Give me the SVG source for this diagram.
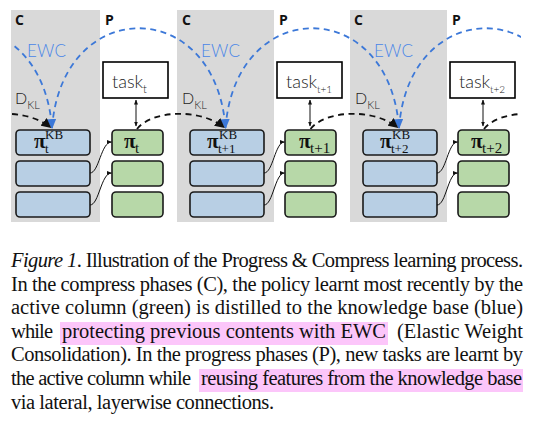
<svg xmlns="http://www.w3.org/2000/svg" width="533" height="426" viewBox="0 0 533 426">
<style>
.bg{fill:#d9d9d9}
.ph{font-family:"Open Sans","Liberation Sans",sans-serif;font-weight:bold;font-size:14px;fill:#111}
.kb{fill:#b8cfe4;stroke:#1a1a1a;stroke-width:1.6}
.act{fill:#b7d8a8;stroke:#1a1a1a;stroke-width:1.6}
.task{fill:#fff;stroke:#000;stroke-width:1.6}
.lbl{font-family:Lato,"Open Sans",sans-serif;font-weight:300;fill:#222}
.ewct{font-family:Lato,"Open Sans",sans-serif;font-weight:300;font-size:17px;fill:#4a86e8}
.pi{font-family:"Liberation Serif",serif;font-weight:bold;font-size:21px;fill:#111}
.ss{font-family:"Liberation Serif",serif;font-size:13px;fill:#111}
.gs{font-family:"Liberation Serif",serif;font-size:15px;fill:#111}
.ewc{fill:none;stroke:#3c78d8;stroke-width:1.8;stroke-dasharray:6 4.5}
.dkl{fill:none;stroke:#111;stroke-width:1.8;stroke-dasharray:6 4.5}
.thin{fill:none;stroke:#111;stroke-width:1}
.cap{font-family:"Liberation Serif","Times New Roman",serif;font-size:20.5px;fill:#111}
.hl{fill:#fcc6fa}
</style>
<defs>
<marker id="ab" viewBox="0 0 10 10" refX="9" refY="5" markerWidth="5.5" markerHeight="5.5" orient="auto" markerUnits="strokeWidth"><path d="M0,0 L10,5 L0,10 z" fill="#3c78d8"/></marker>
<marker id="ak" viewBox="0 0 10 10" refX="9" refY="5" markerWidth="5.5" markerHeight="5.5" orient="auto" markerUnits="strokeWidth"><path d="M0,0 L10,5 L0,10 z" fill="#111"/></marker>
<marker id="as" viewBox="0 0 10 10" refX="9" refY="5" markerWidth="5" markerHeight="5" orient="auto-start-reverse" markerUnits="strokeWidth"><path d="M0,1 L10,5 L0,9 z" fill="#111"/></marker>
<clipPath id="clip"><rect x="12" y="0" width="509" height="230"/></clipPath>
</defs>
<g id="panels">
<rect class="bg" x="11" y="10" width="89" height="212"/>
<rect class="bg" x="177" y="10" width="97" height="212"/>
<rect class="bg" x="350" y="10" width="97" height="212"/>
<text class="ph" x="15" y="25">C</text>
<text class="ph" x="105" y="25">P</text>
<text class="ph" x="182" y="25">C</text>
<text class="ph" x="279" y="25">P</text>
<text class="ph" x="354" y="25">C</text>
<text class="ph" x="452" y="25">P</text>
<text class="ewct" x="27" y="57" textLength="39">EWC</text>
<text class="ewct" x="201" y="57" textLength="39">EWC</text>
<text class="ewct" x="374" y="57" textLength="39">EWC</text>
<text class="lbl" x="15" y="104" font-size="16">D<tspan font-size="11" dy="5">KL</tspan></text>
<text class="lbl" x="182" y="104" font-size="16">D<tspan font-size="11" dy="5">KL</tspan></text>
<text class="lbl" x="355" y="104" font-size="16">D<tspan font-size="11" dy="5">KL</tspan></text>
</g>
<g id="kb-t">
<rect class="kb" x="16" y="130" width="74" height="25" rx="4"/>
<rect class="kb" x="16" y="161" width="74" height="25" rx="4"/>
<rect class="kb" x="16" y="192" width="74" height="25" rx="4"/>
<text class="pi" x="34" y="148">π</text><text class="ss" x="45" y="139">KB</text><text class="ss" x="45" y="153">t</text>
</g>
<g id="active-t">
<rect class="act" x="112" y="130" width="51" height="25" rx="4"/>
<rect class="act" x="112" y="161" width="51" height="25" rx="4"/>
<rect class="act" x="112" y="192" width="51" height="25" rx="4"/>
<text class="pi" x="124" y="148">π</text><text class="gs" x="135" y="153">t</text>
</g>
<g id="task-t">
<rect class="task" x="103" y="62" width="65" height="36"/>
<text class="lbl" x="112" y="88" font-size="18">task<tspan font-size="11" dy="5">t</tspan></text>
</g>
<g id="kb-t1">
<rect class="kb" x="190" y="130" width="74" height="25" rx="4"/>
<rect class="kb" x="190" y="161" width="74" height="25" rx="4"/>
<rect class="kb" x="190" y="192" width="74" height="25" rx="4"/>
<text class="pi" x="207" y="148">π</text><text class="ss" x="219" y="139">KB</text><text class="ss" x="218" y="153">t+1</text>
</g>
<g id="active-t1">
<rect class="act" x="285" y="130" width="51" height="25" rx="4"/>
<rect class="act" x="285" y="161" width="51" height="25" rx="4"/>
<rect class="act" x="285" y="192" width="51" height="25" rx="4"/>
<text class="pi" x="299" y="148">π</text><text class="gs" x="310" y="153">t+1</text>
</g>
<g id="task-t1">
<rect class="task" x="277" y="62" width="65" height="36"/>
<text class="lbl" x="286" y="88" font-size="18">task<tspan font-size="10" dy="5">t+1</tspan></text>
</g>
<g id="kb-t2">
<rect class="kb" x="363" y="130" width="74" height="25" rx="4"/>
<rect class="kb" x="363" y="161" width="74" height="25" rx="4"/>
<rect class="kb" x="363" y="192" width="74" height="25" rx="4"/>
<text class="pi" x="380" y="148">π</text><text class="ss" x="392" y="139">KB</text><text class="ss" x="391" y="153">t+2</text>
</g>
<g id="active-t2">
<rect class="act" x="458" y="130" width="51" height="25" rx="4"/>
<rect class="act" x="458" y="161" width="51" height="25" rx="4"/>
<rect class="act" x="458" y="192" width="51" height="25" rx="4"/>
<text class="pi" x="471" y="148">π</text><text class="gs" x="482" y="153">t+2</text>
</g>
<g id="task-t2">
<rect class="task" x="450" y="62" width="65" height="36"/>
<text class="lbl" x="459" y="88" font-size="18">task<tspan font-size="10" dy="5">t+2</tspan></text>
</g>
<g id="connectors">
<g clip-path="url(#clip)">
<path class="ewc" d="M-121.5,128 C-111.5,-5 42,-5 52,128" marker-end="url(#ab)"/>
<path class="ewc" d="M52,128 C62,-5 215.5,-5 225.5,128" marker-end="url(#ab)"/>
<path class="ewc" d="M225.5,128 C235.5,-5 389,-5 399,128" marker-end="url(#ab)"/>
<path class="ewc" d="M399,128 C409,-5 562.5,-5 572.5,128"/>
<path class="dkl" d="M-36.5,129 C-21.5,110 26.5,108 50.5,127.5" marker-end="url(#ak)"/>
<path class="dkl" d="M137,129 C152,110 200,108 224,127.5" marker-end="url(#ak)"/>
<path class="dkl" d="M310.5,129 C325.5,110 373.5,108 397.5,127.5" marker-end="url(#ak)"/>
<path class="dkl" d="M484,129 C499,110 547,108 571,127.5"/>
</g>
<path class="thin" d="M136,100 V126" marker-start="url(#as)" marker-end="url(#as)"/>
<path class="thin" d="M310,100 V126" marker-start="url(#as)" marker-end="url(#as)"/>
<path class="thin" d="M483,100 V126" marker-start="url(#as)" marker-end="url(#as)"/>
<path class="thin" d="M90,173 C99,173 101,142 111.5,142" marker-end="url(#as)"/>
<path class="thin" d="M90,205 C99,205 101,173 111.5,173" marker-end="url(#as)"/>
<path class="thin" d="M264,173 C273,173 275,142 284.5,142" marker-end="url(#as)"/>
<path class="thin" d="M264,205 C273,205 275,173 284.5,173" marker-end="url(#as)"/>
<path class="thin" d="M437,173 C446,173 448,142 457.5,142" marker-end="url(#as)"/>
<path class="thin" d="M437,205 C446,205 448,173 457.5,173" marker-end="url(#as)"/>
</g>
<g id="caption">
<rect class="hl" x="60" y="322" width="328" height="23"/>
<rect class="hl" x="199" y="369" width="324" height="23"/>
<text class="cap" x="11" y="267" textLength="512" lengthAdjust="spacing"><tspan font-style="italic">Figure 1</tspan>. Illustration of the Progress &amp; Compress learning process.</text>
<text class="cap" x="11" y="290.6" textLength="512" lengthAdjust="spacing">In the compress phases (C), the policy learnt most recently by the</text>
<text class="cap" x="11" y="314.2" textLength="512" lengthAdjust="spacing">active column (green) is distilled to the knowledge base (blue)</text>
<text class="cap" x="11" y="337.8" textLength="42" lengthAdjust="spacing">while</text>
<text class="cap" x="62" y="337.8" textLength="324" lengthAdjust="spacing">protecting previous contents with EWC</text>
<text class="cap" x="397" y="337.8" textLength="126" lengthAdjust="spacing">(Elastic Weight</text>
<text class="cap" x="11" y="361.4" textLength="512" lengthAdjust="spacing">Consolidation). In the progress phases (P), new tasks are learnt by</text>
<text class="cap" x="11" y="385" textLength="180" lengthAdjust="spacing">the active column while</text>
<text class="cap" x="201" y="385" textLength="321" lengthAdjust="spacing">reusing features from the knowledge base</text>
<text class="cap" x="11" y="408.6" textLength="263" lengthAdjust="spacing">via lateral, layerwise connections.</text>
</g>
</svg>
